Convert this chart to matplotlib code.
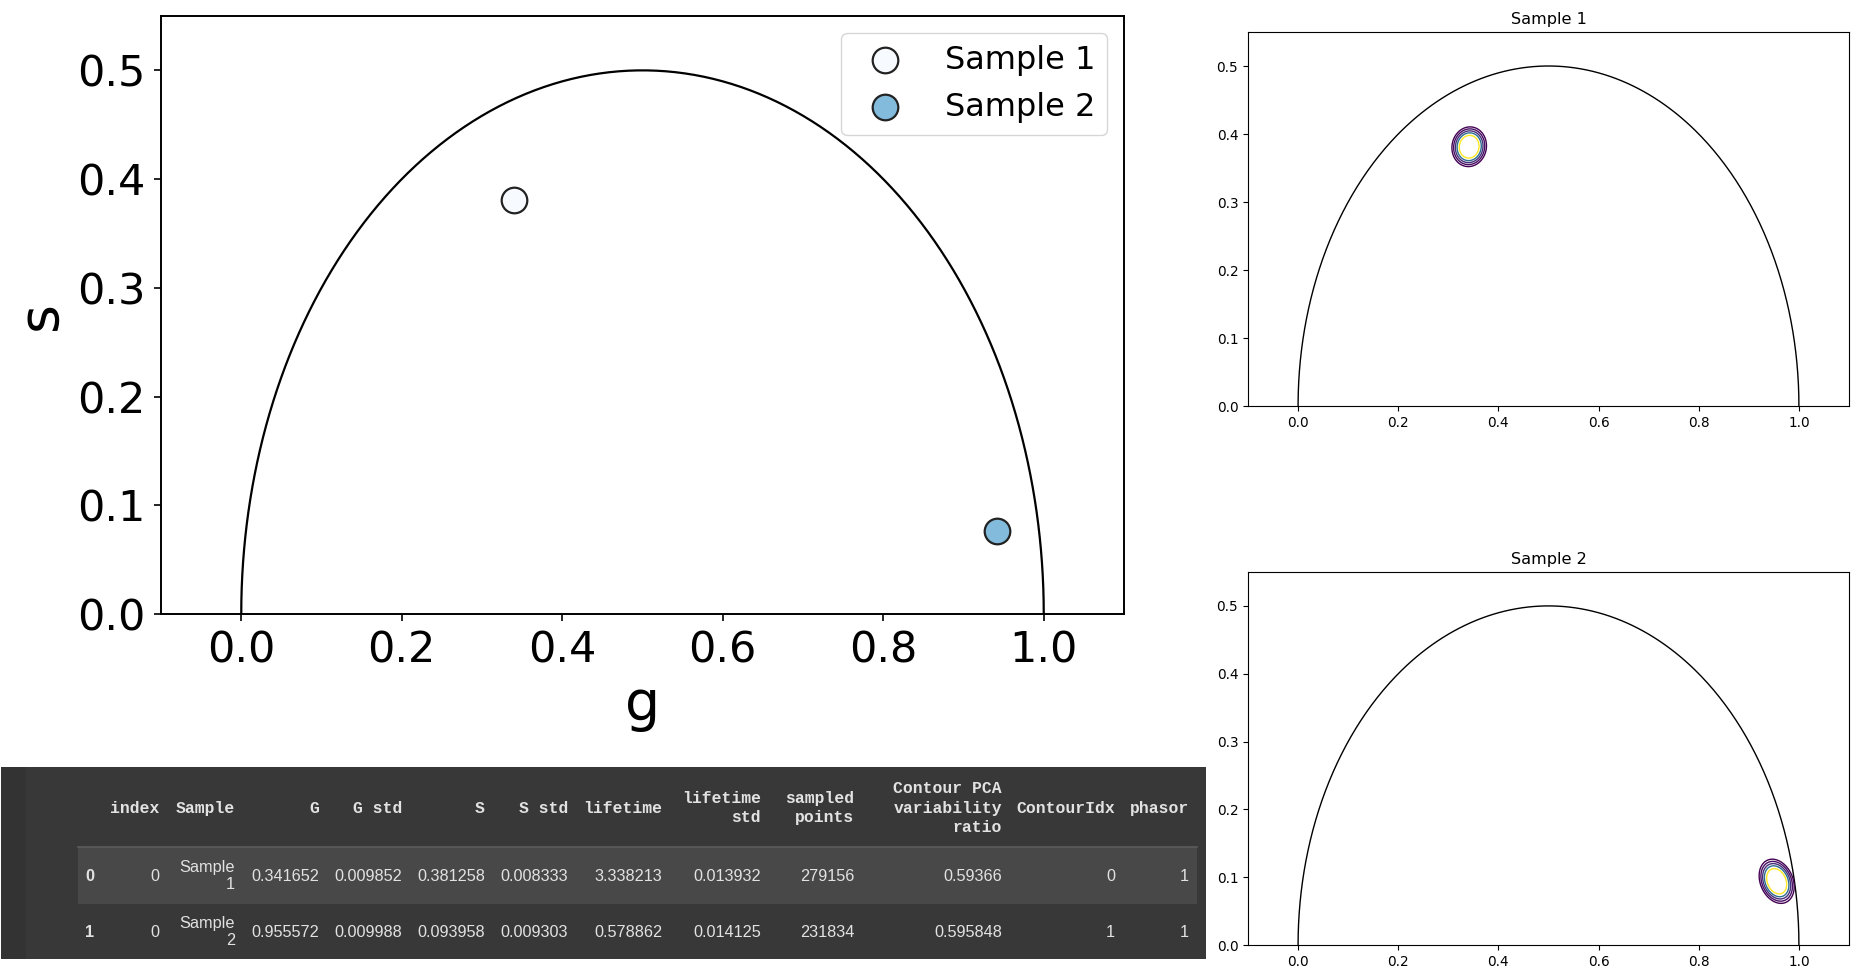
import numpy as np
import matplotlib
matplotlib.use('Agg')
import matplotlib.pyplot as plt
from matplotlib.patches import Rectangle

W, H = 1860, 980

# main phasor plot
main_names = ['Sample 1', 'Sample 2']
main_g = [0.340, 0.942]
main_s = [0.381, 0.0765]
main_colors = ['#f7fbff', '#82bbdc']

# contour panels
contour_g = [0.341652, 0.955572]
contour_s = [0.381258, 0.093958]
contour_gstd = [0.009852, 0.009988]
contour_sstd = [0.008333, 0.009303]
contour_rho = [0.05, -0.25]
contour_levels_sigma = [3.5, 3.15, 2.8, 2.45, 2.0]

# table
headers = ['index', 'Sample', 'G', 'G std', 'S', 'S std', 'lifetime', 'lifetime\nstd',
           'sampled\npoints', 'Contour PCA\nvariability\nratio', 'ContourIdx', 'phasor']
row_labels = ['0', '1']
row0 = ['0', 'Sample\n1', '0.341652', '0.009852', '0.381258', '0.008333', '3.338213',
        '0.013932', '279156', '0.59366', '0', '1']
row1 = ['0', 'Sample\n2', '0.955572', '0.009988', '0.093958', '0.009303', '0.578862',
        '0.014125', '231834', '0.595848', '1', '1']
col_right = [159, 235, 319, 402, 485, 568, 662, 761, 854, 1002, 1115, 1189]


def px_axes(x0, y0, x1, y1):
    return fig.add_axes([x0 / W, 1 - y1 / H, (x1 - x0) / W, (y1 - y0) / H])


def draw_circle(ax, lw):
    t = np.linspace(0, np.pi, 400)
    ax.plot(0.5 + 0.5 * np.cos(t), 0.5 * np.sin(t), color='black', lw=lw)
    ax.set_xlim(-0.1, 1.1)
    ax.set_ylim(0, 0.55)
    ax.set_xticks(np.arange(0, 1.01, 0.2))
    ax.set_yticks(np.arange(0, 0.51, 0.1))


fig = plt.figure(figsize=(W / 100, H / 100), dpi=100)

ax = px_axes(161, 16, 1124, 614)
draw_circle(ax, 1.6)
for g, s, c, name in zip(main_g, main_s, main_colors, main_names):
    ax.scatter(g, s, s=340, c=c, edgecolors='#222222', linewidths=1.6, label=name, zorder=3)
ax.tick_params(labelsize=31, length=5, width=1.2)
ax.tick_params(axis='x', pad=6.5)
ax.tick_params(axis='y', pad=6)
ax.set_xlabel('g', fontsize=40, labelpad=4)
ax.set_ylabel('s', fontsize=40, labelpad=6.5)
for sp in ax.spines.values():
    sp.set_linewidth(1.4)
ax.legend(loc='upper right', fontsize=23, handletextpad=0.85, borderpad=0.38,
          labelspacing=0.5, bbox_to_anchor=(0.9825, 0.972), borderaxespad=0)

panels = [(32, 406), (572, 945)]
for i, (top, bottom) in enumerate(panels):
    a = px_axes(1248, top, 1849, bottom)
    draw_circle(a, 1.0)
    gx, gy = np.meshgrid(np.linspace(contour_g[i] - 0.06, contour_g[i] + 0.06, 300),
                         np.linspace(contour_s[i] - 0.06, contour_s[i] + 0.06, 300))
    u = (gx - contour_g[i]) / contour_gstd[i]
    v = (gy - contour_s[i]) / contour_sstd[i]
    r = contour_rho[i]
    z = np.exp(-(u ** 2 - 2 * r * u * v + v ** 2) / (2 * (1 - r ** 2)))
    levels = [np.exp(-k ** 2 / 2) for k in contour_levels_sigma]
    a.contour(gx, gy, z, levels=levels, cmap='viridis', linewidths=1.0)
    a.set_title(main_names[i], fontsize=11.6, pad=6)
    a.tick_params(labelsize=9.8)

# table drawn in pixel coordinates over the whole figure
t = fig.add_axes([0, 0, 1, 1], facecolor='none')
t.set_xlim(0, W)
t.set_ylim(H, 0)
t.axis('off')
t.add_patch(Rectangle((1, 767), 1205, 192, fc='#383838', ec='none'))
t.add_patch(Rectangle((1, 767), 25, 192, fc='#333333', ec='none'))
t.add_patch(Rectangle((78, 847), 1119, 57, fc='#484848', ec='none'))
t.plot([78, 1197], [847, 847], color='#5c5c5c', lw=1.2)

text_col = '#e2e2e2'
for x, h in zip(col_right, headers):
    t.text(x, 808, h, ha='right', va='center', color=text_col, fontsize=11.8,
           family='Liberation Mono', weight='bold', linespacing=1.4)
for y, lab, row in zip([876, 932], row_labels, [row0, row1]):
    t.text(90, y, lab, ha='center', va='center', color=text_col, fontsize=11.8,
           family='Liberation Sans', weight='bold')
    for x, val in zip(col_right, row):
        t.text(x, y, val, ha='right', va='center', color=text_col, fontsize=11.7,
               family='Liberation Sans', linespacing=1.24)

fig.savefig('out.png', dpi=100)
